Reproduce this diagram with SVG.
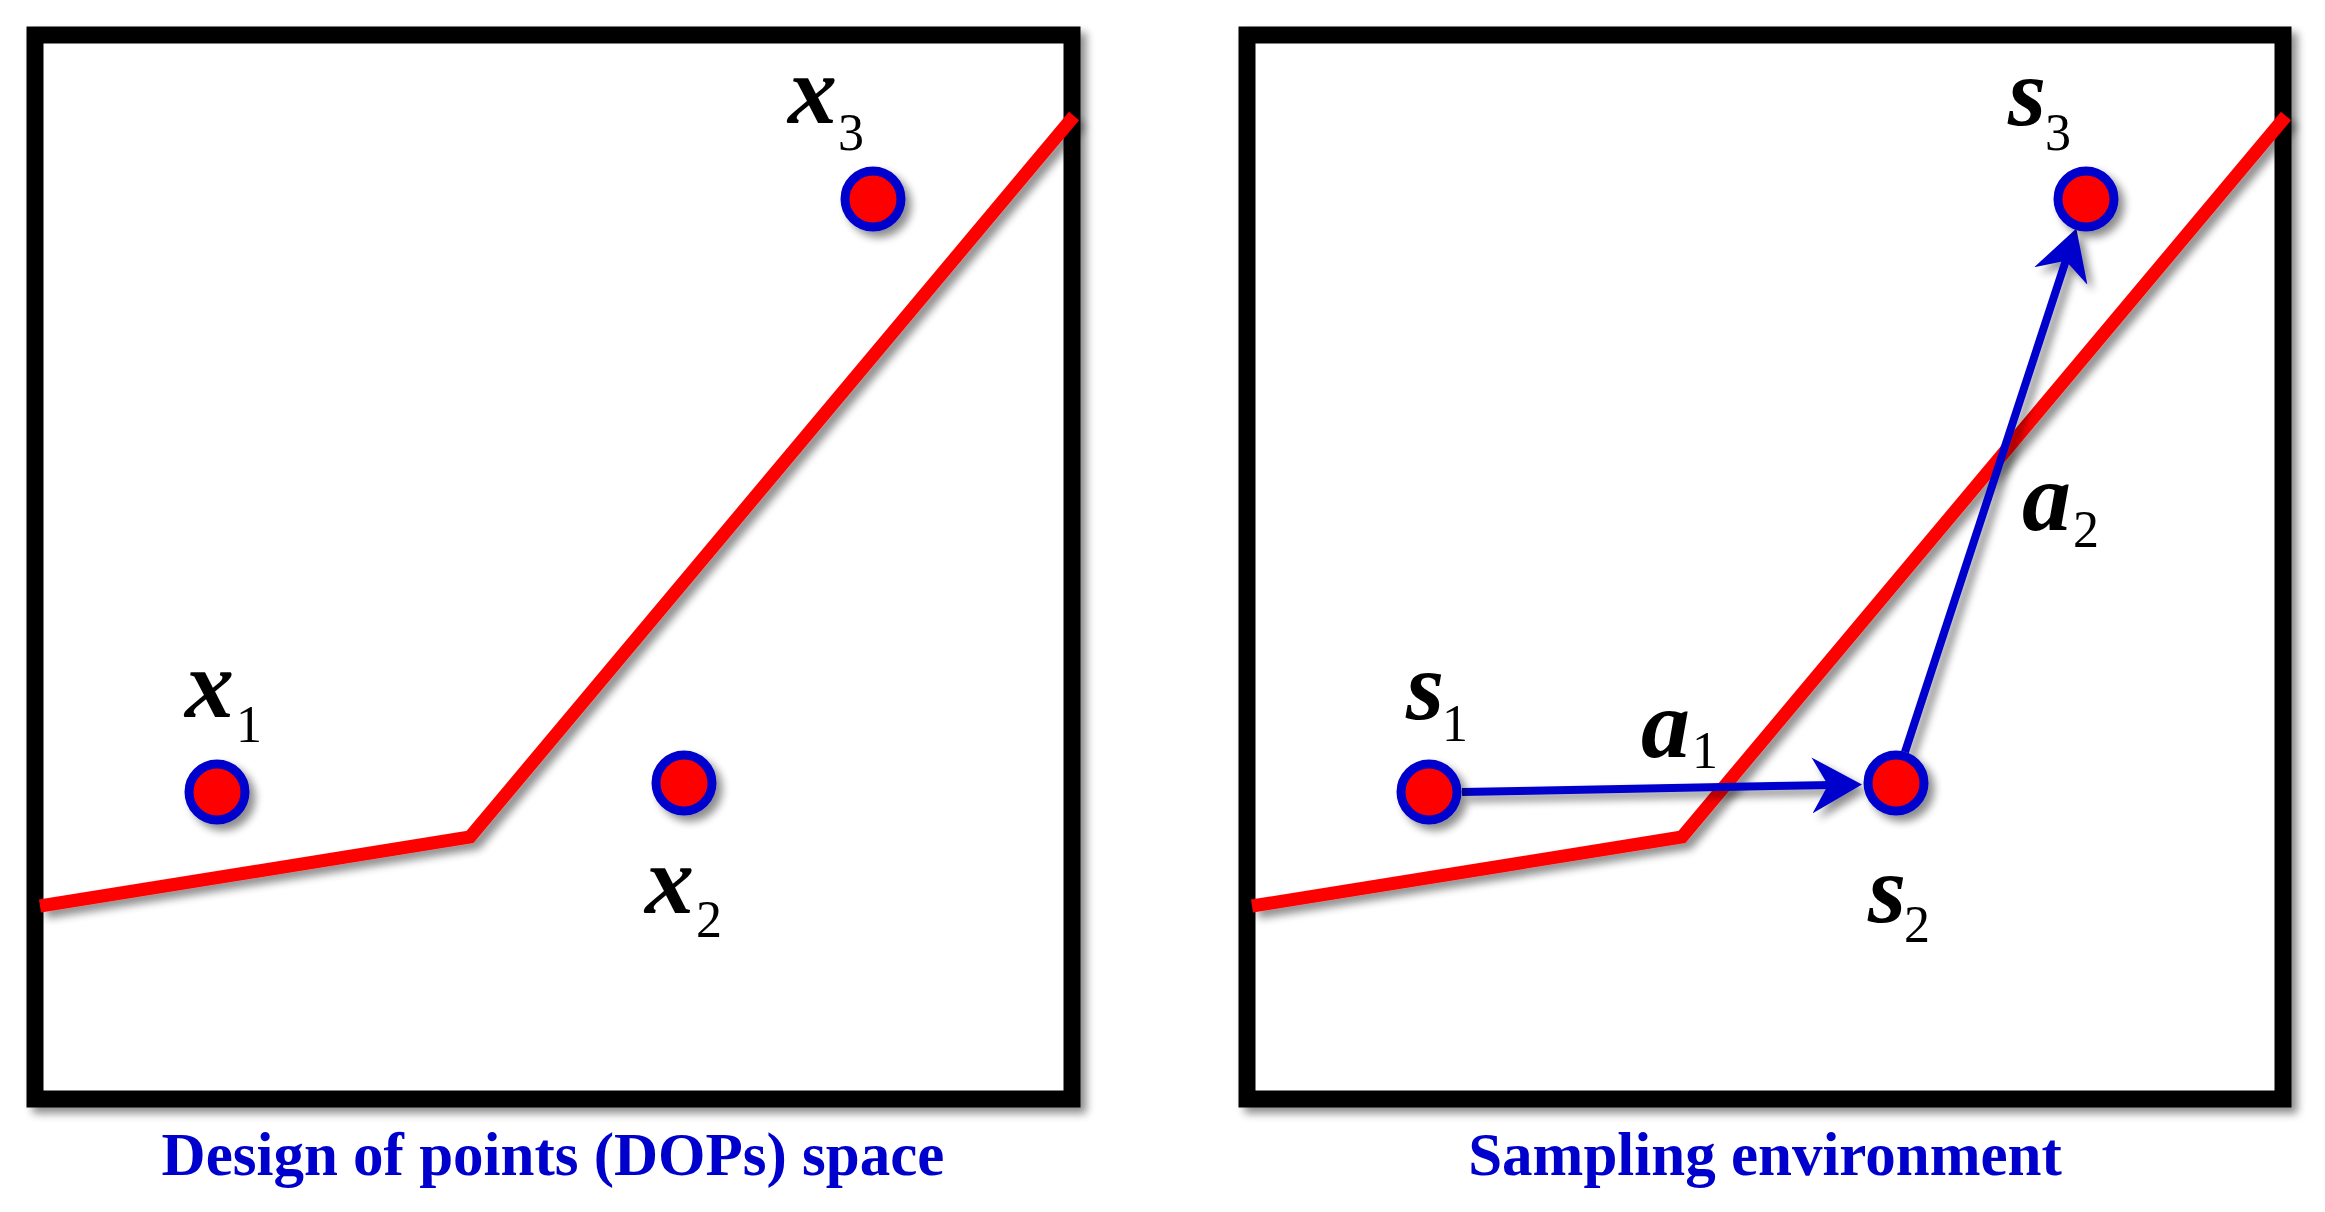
<svg xmlns="http://www.w3.org/2000/svg" width="2325" height="1212" viewBox="0 0 2325 1212">
<style>
.frame{fill:#fff;stroke:#000;stroke-width:17}
.boundary{fill:none;stroke:#ff0000;stroke-width:13;stroke-linejoin:miter}
.pt{fill:#ff0000;stroke:#0000cc;stroke-width:9}
.arrow{fill:none;stroke:#0000cc;stroke-width:8}
.v{font-family:"Liberation Serif","Times New Roman",serif;font-weight:bold;font-style:italic;font-size:98px;fill:#000}
.sub{font-family:"Liberation Serif","Times New Roman",serif;font-size:52px;fill:#000}
.cap{font-family:"Liberation Serif","Times New Roman",serif;font-weight:bold;font-size:61px;fill:#0000cc;text-anchor:middle}
</style>
<defs>
<filter id="sh" filterUnits="userSpaceOnUse" x="0" y="0" width="2325" height="1212">
<feGaussianBlur in="SourceAlpha" stdDeviation="4"/>
<feOffset dx="6" dy="6" result="o"/>
<feComponentTransfer><feFuncA type="linear" slope="0.45"/></feComponentTransfer>
<feMerge><feMergeNode/><feMergeNode in="SourceGraphic"/></feMerge>
</filter>
<marker id="head" markerUnits="userSpaceOnUse" viewBox="0 0 50 56" refX="20" refY="28" markerWidth="50" markerHeight="56" orient="auto">
<path d="M0,0 L50,28 L0,56 L16,28 Z" fill="#0000cc"/>
</marker>
</defs>
<rect width="2325" height="1212" fill="#fff"/>

<g id="panel-left">
<rect class="frame" x="35" y="35" width="1037" height="1064" filter="url(#sh)"/>
<polyline class="boundary" points="40,906 470,837 1074,116" filter="url(#sh)"/>
<text class="cap" x="553" y="1175">Design of points (DOPs) space</text>
</g>
<g id="panel-right">
<rect class="frame" x="1247" y="35" width="1036" height="1064" filter="url(#sh)"/>
<polyline class="boundary" points="1252,906 1682,837 2286,116" filter="url(#sh)"/>
<text class="cap" x="1765" y="1175">Sampling environment</text>
</g>

<g id="x1"><circle class="pt" cx="217" cy="792" r="28" filter="url(#sh)"/><text class="v" x="185" y="717">x</text><text class="sub" x="236" y="742">1</text></g>
<g id="x2"><circle class="pt" cx="684" cy="783" r="28" filter="url(#sh)"/><text class="v" x="645" y="913">x</text><text class="sub" x="696" y="937">2</text></g>
<g id="x3"><circle class="pt" cx="873" cy="199" r="28" filter="url(#sh)"/><text class="v" x="788" y="123">x</text><text class="sub" x="838" y="150">3</text></g>

<g id="connectors">
<line class="arrow" x1="1462" y1="792" x2="1832" y2="785" marker-end="url(#head)" filter="url(#sh)"/>
<line class="arrow" x1="1905" y1="752" x2="2067" y2="257" marker-end="url(#head)" filter="url(#sh)"/>
<text class="v" x="1641" y="757">a</text><text class="sub" x="1692" y="768">1</text>
<text class="v" x="2022" y="530">a</text><text class="sub" x="2073" y="547">2</text>
</g>

<g id="s1"><circle class="pt" cx="1429" cy="792" r="28" filter="url(#sh)"/><text class="v" x="1406" y="719">s</text><text class="sub" x="1442" y="741">1</text></g>
<g id="s2"><circle class="pt" cx="1896" cy="783" r="28" filter="url(#sh)"/><text class="v" x="1868" y="922">s</text><text class="sub" x="1904" y="942">2</text></g>
<g id="s3"><circle class="pt" cx="2086" cy="199" r="28" filter="url(#sh)"/><text class="v" x="2008" y="125">s</text><text class="sub" x="2045" y="150">3</text></g>
</svg>
